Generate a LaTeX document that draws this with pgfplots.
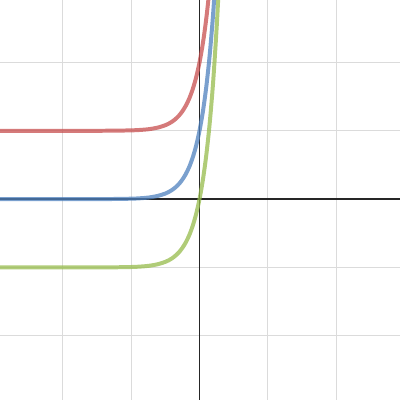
\documentclass[border=0pt]{standalone}
\usepackage{pgfplots}
\pgfplotsset{compat=1.18}
\definecolor{curvered}{RGB}{199,77,77}
\definecolor{curveblue}{RGB}{77,128,189}
\definecolor{curvegreen}{RGB}{150,187,75}
\pgfplotstableread{
x y
-2.95 0.0000
-1.5 0.0006
-1.0 0.0067
-0.8 0.018
-0.7 0.030
-0.6 0.050
-0.5 0.082
-0.45 0.105
-0.4 0.135
-0.35 0.174
-0.3 0.223
-0.25 0.287
-0.2 0.368
-0.15 0.472
-0.1 0.607
-0.05 0.779
0 1.000
0.05 1.284
0.1 1.649
0.15 2.117
0.2 2.718
0.25 3.490
}\bluedata
\pgfplotstableread{
x y
-2.95 1.0000
-1.5 1.0006
-1.0 1.0067
-0.8 1.018
-0.7 1.030
-0.6 1.050
-0.5 1.082
-0.45 1.105
-0.4 1.135
-0.35 1.174
-0.3 1.223
-0.25 1.287
-0.2 1.368
-0.15 1.472
-0.1 1.607
-0.05 1.779
0 2.000
0.05 2.284
0.1 2.649
0.15 3.117
0.2 3.718
}\reddata
\pgfplotstableread{
x y
-2.95 -1.0000
-1.5 -0.9994
-1.0 -0.9933
-0.8 -0.982
-0.7 -0.970
-0.6 -0.950
-0.5 -0.918
-0.45 -0.895
-0.4 -0.865
-0.35 -0.826
-0.3 -0.777
-0.25 -0.713
-0.2 -0.632
-0.15 -0.528
-0.1 -0.393
-0.05 -0.221
0 0.000
0.05 0.284
0.1 0.649
0.15 1.117
0.2 1.718
0.25 2.490
0.28 3.055
0.3 3.482
}\greendata
\begin{document}
\begin{tikzpicture}
\begin{axis}[
  width=6cm, height=6cm, scale only axis,
  xmin=-2.92, xmax=2.935,
  ymin=-2.94, ymax=2.915,
  axis lines=middle,
  axis line style={black!85, line width=0.8pt, -},
  xtick={-2,-1,0,1,2}, ytick={-2,-1,0,1,2},
  xticklabels={}, yticklabels={},
  tick style={draw=none},
  grid=major,
  major grid style={draw=black!14, line width=0.45pt},
]
\addplot[curvered, opacity=0.75, line width=1.7pt, smooth] table[x=x,y=y] {\reddata};
\addplot[curvegreen, opacity=0.75, line width=1.7pt, smooth] table[x=x,y=y] {\greendata};
\addplot[curveblue, opacity=0.75, line width=1.7pt, smooth] table[x=x,y=y] {\bluedata};
\end{axis}
\pgfresetboundingbox
\path (current axis.south west) rectangle (current axis.north east);
\end{tikzpicture}
\end{document}
